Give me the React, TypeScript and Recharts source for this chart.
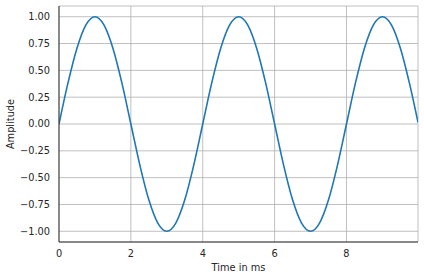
import React from "react";
import { LineChart, Line, XAxis, YAxis, CartesianGrid } from "recharts";

const timeMs = [
  0, 0.25, 0.5, 0.75, 1, 1.25, 1.5, 1.75, 2, 2.25, 2.5, 2.75, 3, 3.25, 3.5, 3.75,
  4, 4.25, 4.5, 4.75, 5, 5.25, 5.5, 5.75, 6, 6.25, 6.5, 6.75, 7, 7.25, 7.5, 7.75,
  8, 8.25, 8.5, 8.75, 9, 9.25, 9.5, 9.75, 9.99,
];
const amplitude = [
  0, 0.383, 0.707, 0.924, 1, 0.924, 0.707, 0.383, 0, -0.383, -0.707, -0.924, -1, -0.924, -0.707, -0.383,
  0, 0.383, 0.707, 0.924, 1, 0.924, 0.707, 0.383, 0, -0.383, -0.707, -0.924, -1, -0.924, -0.707, -0.383,
  0, 0.383, 0.707, 0.924, 1, 0.924, 0.707, 0.383, 0.016,
];
const xTicks = [0, 2, 4, 6, 8];
const yTicks = [-1, -0.75, -0.5, -0.25, 0, 0.25, 0.5, 0.75, 1];

const data = timeMs.map((t, i) => ({ t, a: amplitude[i] }));

const FONT = "'DejaVu Sans', DejaVuSans, 'DejaVu Sans Book', Verdana, sans-serif";
const TEXT = "#262626";
const FRAME = "#333333";
const FS = 9.8;

const fmtY = (v: number) => {
  const s = Math.abs(v).toFixed(2);
  return v < 0 ? "\u2212" + s : s;
};

export default function App() {
  return (
    <div
      style={{
        position: "absolute",
        left: 0,
        top: 0,
        width: 424,
        height: 280,
        background: "#fff",
        fontFamily: FONT,
      }}
    >
      <LineChart
        width={424}
        height={280}
        data={data}
        margin={{ top: 6, right: 6, bottom: 0, left: 0 }}
        style={{ fontFamily: FONT }}
      >
        <CartesianGrid
          xAxisId="main"
          yAxisId="main"
          stroke="#b0b0b0"
          strokeWidth={0.8}
        />
        <XAxis
          xAxisId="main"
          dataKey="t"
          type="number"
          domain={[0, 9.99]}
          ticks={xTicks}
          allowDataOverflow
          height={38}
          tickLine={false}
          tickSize={0}
          tickMargin={8}
          axisLine={{ stroke: FRAME, strokeWidth: 1 }}
          tick={{ fill: TEXT, fontSize: FS, style: { fontFamily: FONT } }}
          label={{
            content: () => (
              <text x={238.5} y={271} textAnchor="middle" fill={TEXT} fontSize={FS} style={{ fontFamily: FONT }}>
                Time in ms
              </text>
            ),
          }}
        />
        <XAxis
          xAxisId="top"
          orientation="top"
          dataKey="t"
          type="number"
          domain={[0, 9.99]}
          height={0}
          tick={false}
          tickLine={false}
          axisLine={{ stroke: FRAME, strokeWidth: 1 }}
        />
        <YAxis
          yAxisId="main"
          type="number"
          domain={[-1.1, 1.1]}
          ticks={yTicks}
          allowDataOverflow
          width={59}
          tickLine={false}
          tickSize={0}
          tickMargin={9}
          tickFormatter={fmtY}
          axisLine={{ stroke: FRAME, strokeWidth: 1 }}
          tick={{ fill: TEXT, fontSize: FS, style: { fontFamily: FONT } }}
          label={{
            content: () => (
              <text
                x={14}
                y={124}
                transform="rotate(-90 14 124)"
                textAnchor="middle"
                fill={TEXT}
                fontSize={FS}
                style={{ fontFamily: FONT }}
              >
                Amplitude
              </text>
            ),
          }}
        />
        <YAxis
          yAxisId="right"
          orientation="right"
          type="number"
          domain={[-1.1, 1.1]}
          width={0}
          tick={false}
          tickLine={false}
          axisLine={{ stroke: FRAME, strokeWidth: 1 }}
        />
        <Line
          xAxisId="main"
          yAxisId="main"
          type="monotone"
          dataKey="a"
          stroke="#1f77b4"
          strokeWidth={1.6}
          dot={false}
          isAnimationActive={false}
        />
      </LineChart>
    </div>
  );
}
